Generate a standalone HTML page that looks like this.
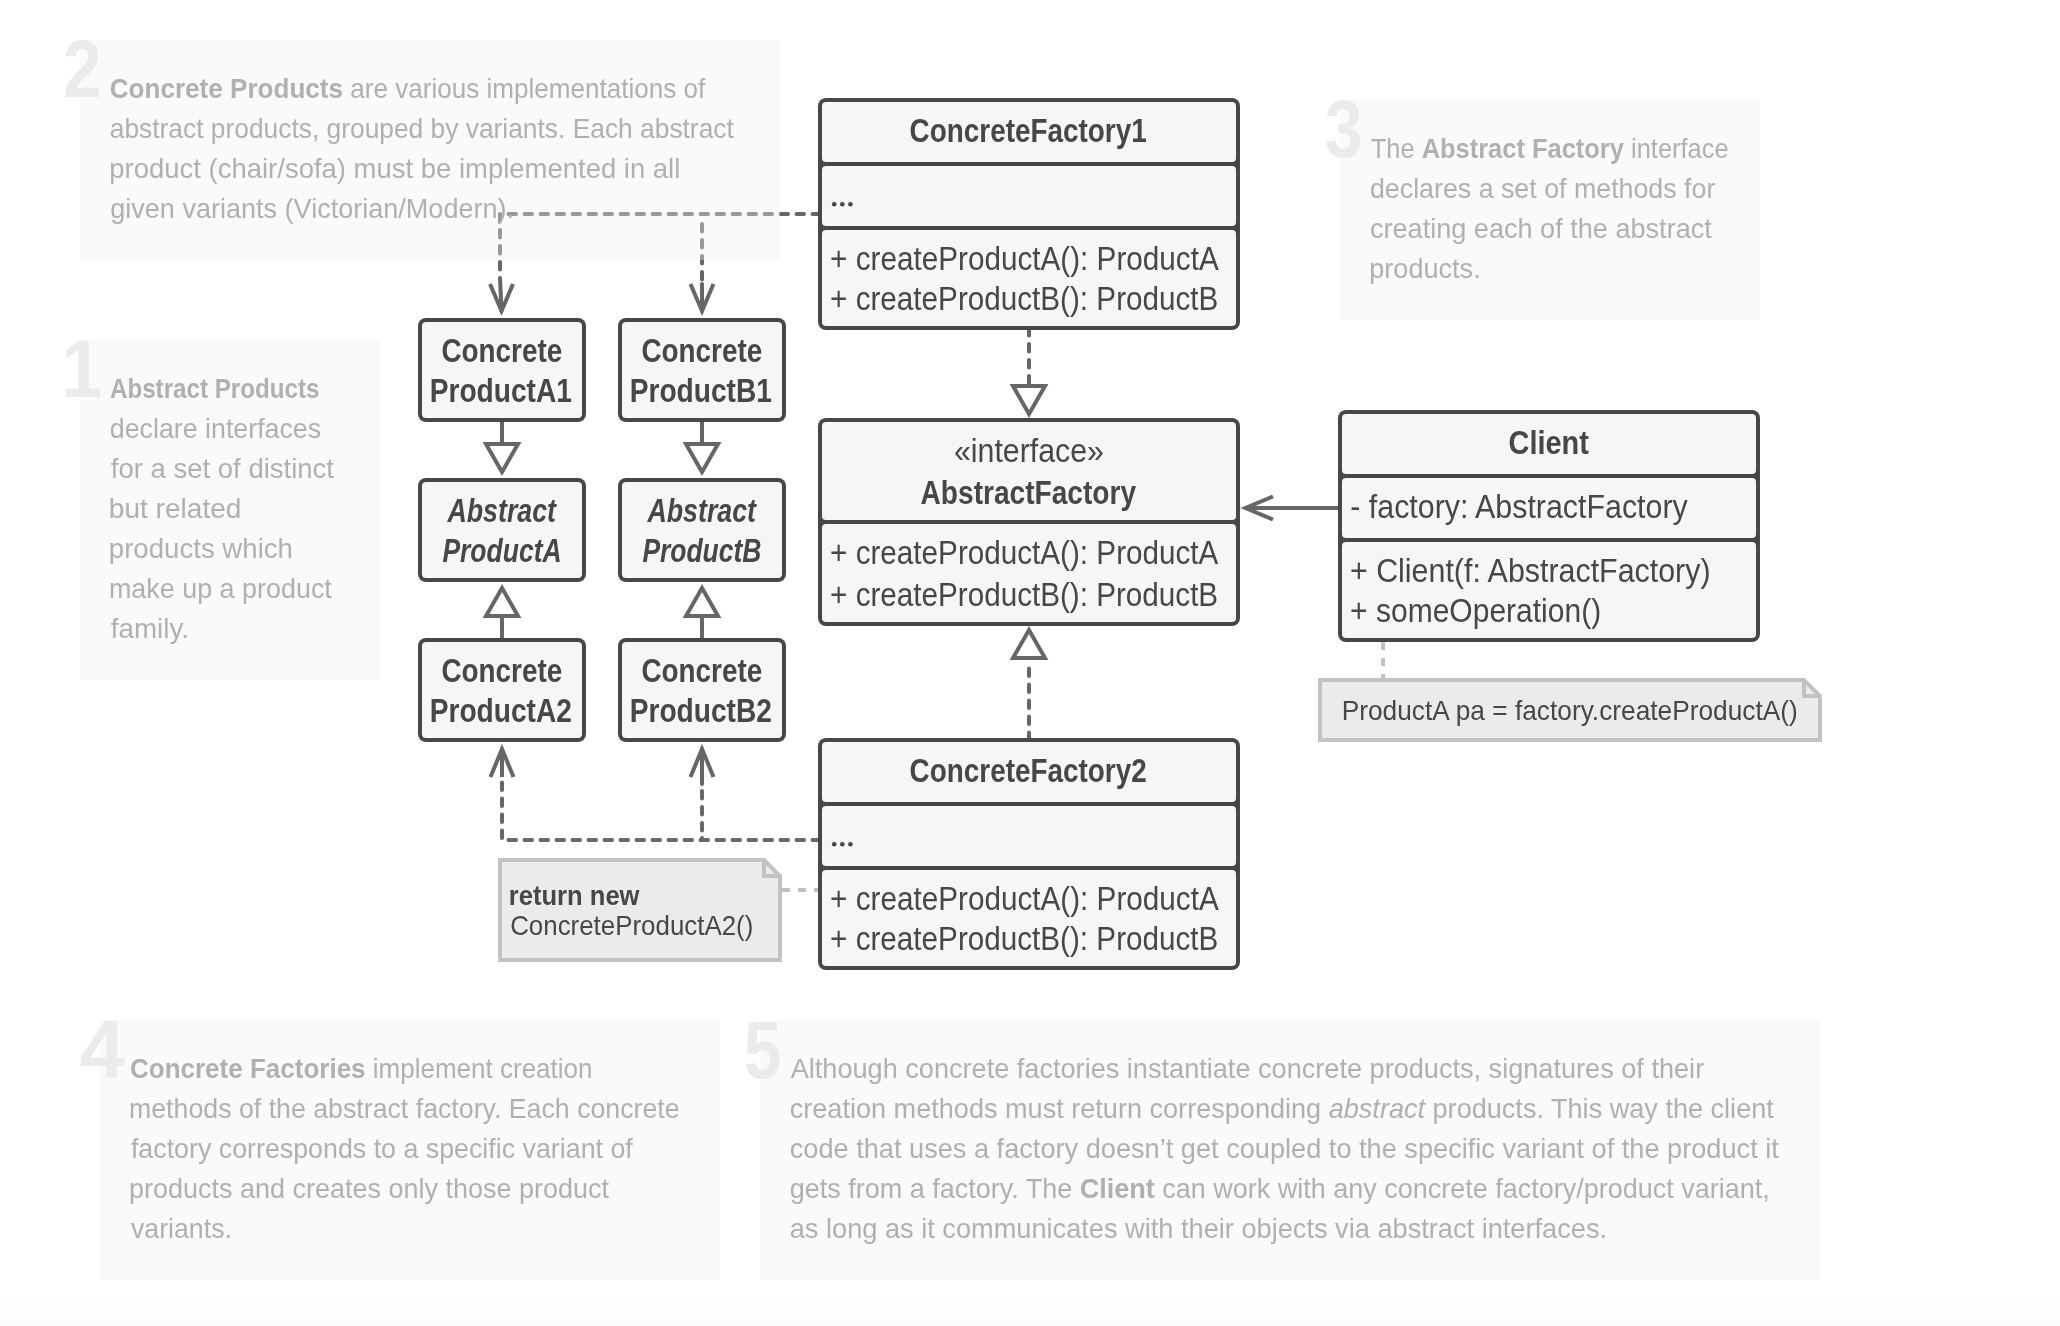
<!DOCTYPE html>
<html><head><meta charset="utf-8"><title>Abstract Factory structure</title>
<style>html,body{margin:0;padding:0;background:#fff;overflow:hidden}svg{display:block;will-change:transform}text{font-family:"Liberation Sans",sans-serif}</style>
</head><body>
<svg width="2060" height="1326" viewBox="0 0 2060 1326">

<rect x="0" y="0" width="2060" height="1326" fill="#ffffff"/>
<rect x="0" y="1302" width="2060" height="5" fill="#fefefe"/>
<rect x="0" y="1307" width="2060" height="15" fill="#fdfdfd"/>
<rect x="0" y="1322" width="2060" height="4" fill="#fcfcfc"/>
<g>
<path d="M820,214 H500 V278" fill="none" stroke="#666666" stroke-width="4" stroke-dasharray="7.5 8.5" stroke-linecap="round"/>
<path d="M702,224 V282" fill="none" stroke="#666666" stroke-width="4" stroke-dasharray="7.5 8.5" stroke-linecap="round"/>
<path d="M500,278 L501.5,311" fill="none" stroke="#666666" stroke-width="4" stroke-linecap="round"/>
<path d="M702,284 L702,311" fill="none" stroke="#666666" stroke-width="4" stroke-linecap="round"/>
<path d="M490,284 L501.5,311 L513,284" fill="none" stroke="#666666" stroke-width="4"/>
<path d="M690.5,284 L702,311 L713.5,284" fill="none" stroke="#666666" stroke-width="4"/>
<path d="M820,840 H502" fill="none" stroke="#666666" stroke-width="4" stroke-dasharray="7.5 8.5" stroke-linecap="round"/>
<path d="M502,838 V780" fill="none" stroke="#666666" stroke-width="4" stroke-dasharray="7.5 8.5" stroke-linecap="round"/>
<path d="M702,838 V786" fill="none" stroke="#666666" stroke-width="4" stroke-dasharray="7.5 8.5" stroke-linecap="round" stroke-dashoffset="8.5"/>
<path d="M702,840 V838" fill="none" stroke="#666666" stroke-width="4" stroke-linecap="round"/>
<path d="M502,777 V749" fill="none" stroke="#666666" stroke-width="4"/>
<path d="M702,784 V749" fill="none" stroke="#666666" stroke-width="4" stroke-linecap="round"/>
<path d="M490.5,777 L502,749 L513.5,777" fill="none" stroke="#666666" stroke-width="4"/>
<path d="M690.5,777 L702,749 L713.5,777" fill="none" stroke="#666666" stroke-width="4"/>
<path d="M1029,328 V386" fill="none" stroke="#666666" stroke-width="4" stroke-dasharray="7.5 8.5" stroke-linecap="round"/>
<path d="M1029,740 V660" fill="none" stroke="#666666" stroke-width="4" stroke-dasharray="7.5 8.5" stroke-linecap="round"/>
<path d="M1013,386 H1045 L1029,414 Z" fill="#ffffff" stroke="#666666" stroke-width="4"/>
<path d="M1013,658 H1045 L1029,630 Z" fill="#ffffff" stroke="#666666" stroke-width="4"/>
<path d="M502,420 V444 M502,640 V616" fill="none" stroke="#666666" stroke-width="4"/>
<path d="M486,444 H518 L502,472 Z" fill="#ffffff" stroke="#666666" stroke-width="4"/>
<path d="M486,616 H518 L502,588 Z" fill="#ffffff" stroke="#666666" stroke-width="4"/>
<path d="M702,420 V444 M702,640 V616" fill="none" stroke="#666666" stroke-width="4"/>
<path d="M686,444 H718 L702,472 Z" fill="#ffffff" stroke="#666666" stroke-width="4"/>
<path d="M686,616 H718 L702,588 Z" fill="#ffffff" stroke="#666666" stroke-width="4"/>
<path d="M1340,508 H1247" fill="none" stroke="#666666" stroke-width="4"/>
<path d="M1273,496.5 L1245.5,508 L1273,519.5" fill="none" stroke="#666666" stroke-width="4"/>
<path d="M1383,642 V680" fill="none" stroke="#c2c2c2" stroke-width="4" stroke-dasharray="8 8"/>
<path d="M782,890 H818" fill="none" stroke="#c2c2c2" stroke-width="4" stroke-dasharray="8 8"/>
</g>
<rect x="818" y="98" width="422" height="232" rx="8" ry="8" fill="#474747"/><rect x="822" y="102" width="414" height="60" rx="4" ry="4" fill="#f6f6f6"/><rect x="822" y="166" width="414" height="60" rx="4" ry="4" fill="#f6f6f6"/><rect x="822" y="230" width="414" height="96" rx="4" ry="4" fill="#f6f6f6"/>
<rect x="818" y="418" width="422" height="208" rx="8" ry="8" fill="#474747"/><rect x="822" y="422" width="414" height="98" rx="4" ry="4" fill="#f6f6f6"/><rect x="822" y="524" width="414" height="98" rx="4" ry="4" fill="#f6f6f6"/>
<rect x="818" y="738" width="422" height="232" rx="8" ry="8" fill="#474747"/><rect x="822" y="742" width="414" height="60" rx="4" ry="4" fill="#f6f6f6"/><rect x="822" y="806" width="414" height="60" rx="4" ry="4" fill="#f6f6f6"/><rect x="822" y="870" width="414" height="96" rx="4" ry="4" fill="#f6f6f6"/>
<rect x="1338" y="410" width="422" height="232" rx="8" ry="8" fill="#474747"/><rect x="1342" y="414" width="414" height="60" rx="4" ry="4" fill="#f6f6f6"/><rect x="1342" y="478" width="414" height="60" rx="4" ry="4" fill="#f6f6f6"/><rect x="1342" y="542" width="414" height="96" rx="4" ry="4" fill="#f6f6f6"/>
<rect x="418" y="318" width="168" height="104" rx="8" ry="8" fill="#474747"/><rect x="422" y="322" width="160" height="96" rx="4" ry="4" fill="#f6f6f6"/>
<rect x="418" y="478" width="168" height="104" rx="8" ry="8" fill="#474747"/><rect x="422" y="482" width="160" height="96" rx="4" ry="4" fill="#f6f6f6"/>
<rect x="418" y="638" width="168" height="104" rx="8" ry="8" fill="#474747"/><rect x="422" y="642" width="160" height="96" rx="4" ry="4" fill="#f6f6f6"/>
<rect x="618" y="318" width="168" height="104" rx="8" ry="8" fill="#474747"/><rect x="622" y="322" width="160" height="96" rx="4" ry="4" fill="#f6f6f6"/>
<rect x="618" y="478" width="168" height="104" rx="8" ry="8" fill="#474747"/><rect x="622" y="482" width="160" height="96" rx="4" ry="4" fill="#f6f6f6"/>
<rect x="618" y="638" width="168" height="104" rx="8" ry="8" fill="#474747"/><rect x="622" y="642" width="160" height="96" rx="4" ry="4" fill="#f6f6f6"/>
<circle cx="834.2" cy="204.3" r="2.3" fill="#474747"/>
<circle cx="842.3" cy="204.3" r="2.3" fill="#474747"/>
<circle cx="850.4" cy="204.3" r="2.3" fill="#474747"/>
<circle cx="834.2" cy="844.3" r="2.3" fill="#474747"/>
<circle cx="842.3" cy="844.3" r="2.3" fill="#474747"/>
<circle cx="850.4" cy="844.3" r="2.3" fill="#474747"/>
<path d="M1320,680 H1804 L1820,696 V740 H1320 Z" fill="#ebebeb" stroke="#c2c2c2" stroke-width="4"/>
<path d="M1804,680 V696 H1820" fill="none" stroke="#c2c2c2" stroke-width="4"/>
<path d="M500,860 H764 L780,876 V960 H500 Z" fill="#ebebeb" stroke="#c2c2c2" stroke-width="4"/>
<path d="M764,860 V876 H780" fill="none" stroke="#c2c2c2" stroke-width="4"/>
<rect x="80" y="40" width="700" height="220" fill="rgba(241,241,241,0.37)"/>
<rect x="1340" y="100" width="420" height="220" fill="rgba(241,241,241,0.37)"/>
<rect x="80" y="340" width="300" height="340" fill="rgba(241,241,241,0.37)"/>
<rect x="100" y="1020" width="620" height="260" fill="rgba(241,241,241,0.37)"/>
<rect x="760" y="1020" width="1060" height="260" fill="rgba(241,241,241,0.37)"/>
<text transform="translate(63.12,97.30) scale(0.6939,0.8157)" x="0" y="0" font-size="100" font-weight="bold" fill="#ebebeb">2</text>
<text transform="translate(1324.64,157.29) scale(0.6800,0.8085)" x="0" y="0" font-size="100" font-weight="bold" fill="#ebebeb">3</text>
<text transform="translate(61.41,396.50) scale(0.7319,0.8145)" x="0" y="0" font-size="100" font-weight="bold" fill="#ebebeb">1</text>
<text transform="translate(79.57,1077.30) scale(0.8170,0.8159)" x="0" y="0" font-size="100" font-weight="bold" fill="#ebebeb">4</text>
<text transform="translate(743.85,1078.08) scale(0.6820,0.8243)" x="0" y="0" font-size="100" font-weight="bold" fill="#ebebeb">5</text>
<text x="909.55" y="142.00" font-size="33" fill="#474747" textLength="237.16" lengthAdjust="spacingAndGlyphs" style="font-weight:bold">ConcreteFactory1</text>
<text x="830.10" y="270.00" font-size="33" fill="#474747" textLength="388.66" lengthAdjust="spacingAndGlyphs">+ createProductA(): ProductA</text>
<text x="830.10" y="310.00" font-size="33" fill="#474747" textLength="388.26" lengthAdjust="spacingAndGlyphs">+ createProductB(): ProductB</text>
<text x="909.55" y="782.00" font-size="33" fill="#474747" textLength="237.16" lengthAdjust="spacingAndGlyphs" style="font-weight:bold">ConcreteFactory2</text>
<text x="830.10" y="910.00" font-size="33" fill="#474747" textLength="388.66" lengthAdjust="spacingAndGlyphs">+ createProductA(): ProductA</text>
<text x="830.10" y="950.00" font-size="33" fill="#474747" textLength="388.26" lengthAdjust="spacingAndGlyphs">+ createProductB(): ProductB</text>
<text x="953.98" y="462.00" font-size="33" fill="#474747" textLength="150.00" lengthAdjust="spacingAndGlyphs">«interface»</text>
<text x="920.55" y="504.00" font-size="33" fill="#474747" textLength="215.52" lengthAdjust="spacingAndGlyphs" style="font-weight:bold">AbstractFactory</text>
<text x="830.10" y="564.00" font-size="33" fill="#474747" textLength="388.26" lengthAdjust="spacingAndGlyphs">+ createProductA(): ProductA</text>
<text x="830.10" y="606.00" font-size="33" fill="#474747" textLength="388.05" lengthAdjust="spacingAndGlyphs">+ createProductB(): ProductB</text>
<text x="1508.62" y="454.00" font-size="33" fill="#474747" textLength="80.29" lengthAdjust="spacingAndGlyphs" style="font-weight:bold">Client</text>
<text x="1350.28" y="518.00" font-size="33" fill="#474747" textLength="337.42" lengthAdjust="spacingAndGlyphs">- factory: AbstractFactory</text>
<text x="1349.98" y="582.00" font-size="33" fill="#474747" textLength="360.55" lengthAdjust="spacingAndGlyphs">+ Client(f: AbstractFactory)</text>
<text x="1350.09" y="622.00" font-size="33" fill="#474747" textLength="251.07" lengthAdjust="spacingAndGlyphs">+ someOperation()</text>
<text x="441.46" y="362.00" font-size="33" fill="#474747" textLength="120.73" lengthAdjust="spacingAndGlyphs" style="font-weight:bold">Concrete</text>
<text x="429.70" y="402.00" font-size="33" fill="#474747" textLength="142.24" lengthAdjust="spacingAndGlyphs" style="font-weight:bold">ProductA1</text>
<text x="447.41" y="522.00" font-size="33" fill="#474747" textLength="108.58" lengthAdjust="spacingAndGlyphs" style="font-weight:bold;font-style:italic">Abstract</text>
<text x="442.40" y="562.00" font-size="33" fill="#474747" textLength="119.20" lengthAdjust="spacingAndGlyphs" style="font-weight:bold;font-style:italic">ProductA</text>
<text x="441.46" y="682.00" font-size="33" fill="#474747" textLength="120.73" lengthAdjust="spacingAndGlyphs" style="font-weight:bold">Concrete</text>
<text x="429.70" y="722.00" font-size="33" fill="#474747" textLength="142.24" lengthAdjust="spacingAndGlyphs" style="font-weight:bold">ProductA2</text>
<text x="641.46" y="362.00" font-size="33" fill="#474747" textLength="120.73" lengthAdjust="spacingAndGlyphs" style="font-weight:bold">Concrete</text>
<text x="629.70" y="402.00" font-size="33" fill="#474747" textLength="142.24" lengthAdjust="spacingAndGlyphs" style="font-weight:bold">ProductB1</text>
<text x="647.41" y="522.00" font-size="33" fill="#474747" textLength="108.58" lengthAdjust="spacingAndGlyphs" style="font-weight:bold;font-style:italic">Abstract</text>
<text x="642.40" y="562.00" font-size="33" fill="#474747" textLength="118.90" lengthAdjust="spacingAndGlyphs" style="font-weight:bold;font-style:italic">ProductB</text>
<text x="641.46" y="682.00" font-size="33" fill="#474747" textLength="120.73" lengthAdjust="spacingAndGlyphs" style="font-weight:bold">Concrete</text>
<text x="629.70" y="722.00" font-size="33" fill="#474747" textLength="142.24" lengthAdjust="spacingAndGlyphs" style="font-weight:bold">ProductB2</text>
<text x="1341.72" y="720.00" font-size="28" fill="#474747" textLength="456.11" lengthAdjust="spacingAndGlyphs">ProductA pa = factory.createProductA()</text>
<text x="508.77" y="905.00" font-size="28" fill="#474747" textLength="130.76" lengthAdjust="spacingAndGlyphs" style="font-weight:bold">return new</text>
<text x="510.18" y="935.00" font-size="28" fill="#474747" textLength="243.16" lengthAdjust="spacingAndGlyphs">ConcreteProductA2()</text>
<text x="109.77" y="98.00" font-size="28" fill="#b0b0b0" textLength="595.54" lengthAdjust="spacingAndGlyphs"><tspan style="font-weight:bold">Concrete Products</tspan><tspan style=""> are various implementations of</tspan></text>
<text x="109.76" y="138.00" font-size="28" fill="#b0b0b0" textLength="624.07" lengthAdjust="spacingAndGlyphs">abstract products, grouped by variants. Each abstract</text>
<text x="109.34" y="178.00" font-size="28" fill="#b0b0b0" textLength="570.99" lengthAdjust="spacingAndGlyphs">product (chair/sofa) must be implemented in all</text>
<text x="110.23" y="218.00" font-size="28" fill="#b0b0b0" textLength="403.82" lengthAdjust="spacingAndGlyphs">given variants (Victorian/Modern).</text>
<text x="1370.70" y="158.00" font-size="28" fill="#b0b0b0" textLength="357.95" lengthAdjust="spacingAndGlyphs"><tspan style="">The </tspan><tspan style="font-weight:bold">Abstract Factory</tspan><tspan style=""> interface</tspan></text>
<text x="1369.94" y="198.00" font-size="28" fill="#b0b0b0" textLength="345.43" lengthAdjust="spacingAndGlyphs">declares a set of methods for</text>
<text x="1369.93" y="238.00" font-size="28" fill="#b0b0b0" textLength="341.89" lengthAdjust="spacingAndGlyphs">creating each of the abstract</text>
<text x="1369.26" y="278.00" font-size="28" fill="#b0b0b0" textLength="111.44" lengthAdjust="spacingAndGlyphs">products.</text>
<text x="109.94" y="398.00" font-size="28" fill="#b0b0b0" textLength="209.58" lengthAdjust="spacingAndGlyphs" style="font-weight:bold">Abstract Products</text>
<text x="109.84" y="438.00" font-size="28" fill="#b0b0b0" textLength="211.33" lengthAdjust="spacingAndGlyphs">declare interfaces</text>
<text x="110.80" y="478.00" font-size="28" fill="#b0b0b0" textLength="223.21" lengthAdjust="spacingAndGlyphs">for a set of distinct</text>
<text x="108.80" y="518.00" font-size="28" fill="#b0b0b0" textLength="132.64" lengthAdjust="spacingAndGlyphs">but related</text>
<text x="108.83" y="558.00" font-size="28" fill="#b0b0b0" textLength="184.11" lengthAdjust="spacingAndGlyphs">products which</text>
<text x="108.88" y="598.00" font-size="28" fill="#b0b0b0" textLength="222.95" lengthAdjust="spacingAndGlyphs">make up a product</text>
<text x="110.80" y="638.00" font-size="28" fill="#b0b0b0" textLength="78.21" lengthAdjust="spacingAndGlyphs">family.</text>
<text x="129.97" y="1078.00" font-size="28" fill="#b0b0b0" textLength="462.54" lengthAdjust="spacingAndGlyphs"><tspan style="font-weight:bold">Concrete Factories</tspan><tspan style=""> implement creation</tspan></text>
<text x="128.99" y="1118.00" font-size="28" fill="#b0b0b0" textLength="550.66" lengthAdjust="spacingAndGlyphs">methods of the abstract factory. Each concrete</text>
<text x="130.90" y="1158.00" font-size="28" fill="#b0b0b0" textLength="501.89" lengthAdjust="spacingAndGlyphs">factory corresponds to a specific variant of</text>
<text x="128.97" y="1198.00" font-size="28" fill="#b0b0b0" textLength="480.02" lengthAdjust="spacingAndGlyphs">products and creates only those product</text>
<text x="130.90" y="1238.00" font-size="28" fill="#b0b0b0" textLength="101.05" lengthAdjust="spacingAndGlyphs">variants.</text>
<text x="790.70" y="1078.00" font-size="28" fill="#b0b0b0" textLength="913.50" lengthAdjust="spacingAndGlyphs">Although concrete factories instantiate concrete products, signatures of their</text>
<text x="789.73" y="1118.00" font-size="28" fill="#b0b0b0" textLength="984.08" lengthAdjust="spacingAndGlyphs"><tspan style="">creation methods must return corresponding </tspan><tspan style="font-style:italic">abstract</tspan><tspan style=""> products. This way the client</tspan></text>
<text x="789.73" y="1158.00" font-size="28" fill="#b0b0b0" textLength="989.09" lengthAdjust="spacingAndGlyphs">code that uses a factory doesn’t get coupled to the specific variant of the product it</text>
<text x="789.74" y="1198.00" font-size="28" fill="#b0b0b0" textLength="980.04" lengthAdjust="spacingAndGlyphs"><tspan style="">gets from a factory. The </tspan><tspan style="font-weight:bold">Client</tspan><tspan style=""> can work with any concrete factory/product variant,</tspan></text>
<text x="789.73" y="1238.00" font-size="28" fill="#b0b0b0" textLength="817.35" lengthAdjust="spacingAndGlyphs">as long as it communicates with their objects via abstract interfaces.</text>
</svg>
</body></html>
